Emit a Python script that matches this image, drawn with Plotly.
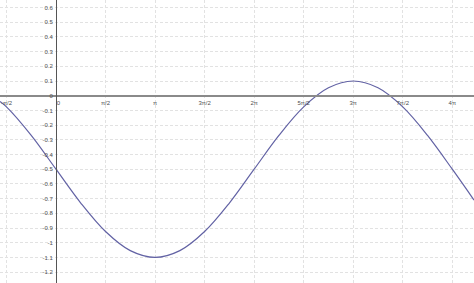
import plotly.graph_objects as go

# curve samples (x in multiples of pi)
x_pi = [-0.5652, -0.5, -0.25, 0.0, 0.25, 0.5, 0.75, 1.0, 1.25, 1.5, 1.75, 2.0,
        2.25, 2.5, 2.75, 3.0, 3.25, 3.5, 3.75, 4.0, 4.219]
y_vals = [-0.04, -0.076, -0.27, -0.5, -0.73, -0.924, -1.054, -1.1, -1.054, -0.924, -0.73, -0.5,
          -0.27, -0.076, 0.054, 0.1, 0.054, -0.076, -0.27, -0.5, -0.71]

x_tickvals = [-0.5, 0, 0.5, 1, 1.5, 2, 2.5, 3, 3.5, 4]
x_ticktext = ["-π/2", "\u00a0\u00a0\u00a00", "π/2", "π", "3π/2", "2π", "5π/2", "3π", "7π/2", "4π"]
y_tickvals = [0.6, 0.5, 0.4, 0.3, 0.2, 0.1, 0, -0.1, -0.2, -0.3, -0.4, -0.5, -0.6,
              -0.7, -0.8, -0.9, -1.0, -1.1, -1.2]
y_ticktext = ["0.6", "0.5", "0.4", "0.3", "0.2", "0.1", "0", "-0.1", "-0.2", "-0.3", "-0.4",
              "-0.5", "-0.6", "-0.7", "-0.8", "-0.9", "-1", "-1.1", "-1.2"]

x_range = [-0.5652, 4.219]
y_range = [-1.274, 0.651]

fig = go.Figure()
fig.add_trace(go.Scatter(
    x=x_pi, y=y_vals, mode="lines",
    line=dict(color="#6262a4", width=1.2, shape="spline", smoothing=1.0),
    hoverinfo="skip",
))

xpos = (0 - y_range[0]) / (y_range[1] - y_range[0])
ypos = (0 - x_range[0]) / (x_range[1] - x_range[0])

fig.update_layout(
    width=474, height=283,
    margin=dict(l=0, r=0, t=0, b=0),
    paper_bgcolor="white", plot_bgcolor="white",
    showlegend=False,
    font=dict(family="Liberation Sans, Arial, sans-serif", size=6, color="#505050"),
    xaxis=dict(
        range=x_range, tickvals=x_tickvals, ticktext=x_ticktext,
        anchor="free", position=xpos,
        showline=True, linecolor="#8a8a8a", linewidth=2,
        showgrid=True, gridcolor="#e2e2e2", gridwidth=1, griddash="3px,2px",
        zeroline=False, ticks="", ticklabelstandoff=1,
        tickfont=dict(size=6, color="#505050"),
    ),
    yaxis=dict(
        range=y_range, tickvals=y_tickvals, ticktext=y_ticktext,
        anchor="free", position=ypos,
        showline=True, linecolor="#555555", linewidth=1,
        showgrid=True, gridcolor="#e2e2e2", gridwidth=1, griddash="3px,2px",
        zeroline=False, ticks="", ticklabelstandoff=2,
        tickfont=dict(size=6, color="#505050"),
    ),
)

fig.write_html("out.html")
